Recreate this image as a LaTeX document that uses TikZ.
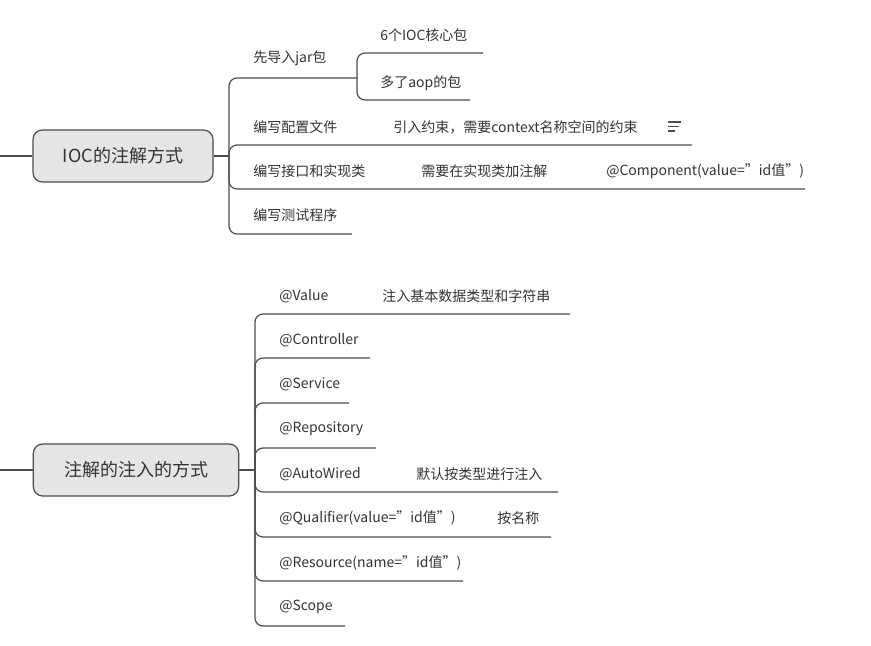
\documentclass[tikz,border=0pt]{standalone}
\usepackage{fontspec}
\setmainfont{Noto Sans CJK SC}
\begin{document}
\begin{tikzpicture}[x=0.75pt,y=-0.75pt,
  ln/.style={draw=black!70,line width=0.9pt},
  br/.style={ln,rounded corners=6pt},
  tx/.style={anchor=west,inner sep=0pt,font=\fontsize{10.5}{12}\selectfont,text=black!80},
  rootbox/.style={draw=black!70,line width=0.9pt,fill=black!10,rounded corners=7pt,font=\fontsize{13.5}{16}\selectfont,text=black!80,minimum height=39pt,inner sep=0pt}]
\useasboundingbox (0,0) rectangle (871,646);
% root 1
\node[rootbox,minimum width=135pt] (r1) at (123,156) {IOC的注解方式};
\coordinate (l1) at (0,156);
\draw[ln] (l1) -- (r1.west);
\coordinate (j1) at (229,156);
\draw[ln] (r1.east) -- (j1);
\node[tx] (a1) at (253,58) {先导入jar包};
\node[tx] (a2) at (253,127) {编写配置文件};
\node[tx] (a3) at (253,171) {编写接口和实现类};
\node[tx] (a4) at (253,215) {编写测试程序};
\coordinate (e1) at (357,78);
\coordinate (e2) at (692,145);
\coordinate (e3) at (805,189);
\coordinate (e4) at (352,234);
\foreach \e in {e1,e2,e3,e4} \draw[br] (j1) |- (\e);
\node[tx] (b1) at (380,35) {6个IOC核心包};
\node[tx] (b2) at (380,83) {多了aop的包};
\coordinate (k1) at (357,78);
\coordinate (f1) at (483,53);
\coordinate (f2) at (470,100);
\draw[br] (k1) |- (f1);
\draw[br] (k1) |- (f2);
\node[tx] (c2) at (393,127) {引入约束，需要context名称空间的约束};
\node[tx] (c3) at (421,171) {需要在实现类加注解};
\node[tx] (d3) at (606,171) {@Component(value="id值")};
\coordinate (i1) at (668,122);\coordinate (i1e) at (681,122);
\coordinate (i2) at (668,126.5);\coordinate (i2e) at (679,126.5);
\coordinate (i3) at (668,131);\coordinate (i3e) at (675,131);
\draw[black!70,line width=0.8pt] (i1)--(i1e) (i2)--(i2e) (i3)--(i3e);
% root 2
\node[rootbox,minimum width=154pt] (r2) at (136,470) {注解的注入的方式};
\coordinate (l2) at (0,470);
\draw[ln] (l2) -- (r2.west);
\coordinate (j2) at (255,470);
\draw[ln] (r2.east) -- (j2);
\foreach \n/\t/\y/\u/\x in {
 v1/{@Value}/296/314/570,
 v2/{@Controller}/340/358/370,
 v3/{@Service}/384/403/349,
 v4/{@Repository}/429/448/376,
 v5/{@AutoWired}/474/492/558,
 v6/{@Qualifier(value="id值")}/518/537/551,
 v7/{@Resource(name="id值")}/563/581/463,
 v8/{@Scope}/607/626/345}{
  \node[tx] (\n) at (279,\y) {\t};
  \coordinate (\n e) at (\x,\u);
  \draw[br] (j2) |- (\n e);
}
\node[tx] (w1) at (382,296) {注入基本数据类型和字符串};
\node[tx] (w5) at (416,474) {默认按类型进行注入};
\node[tx] (w6) at (497,518) {按名称};
\end{tikzpicture}
\end{document}
